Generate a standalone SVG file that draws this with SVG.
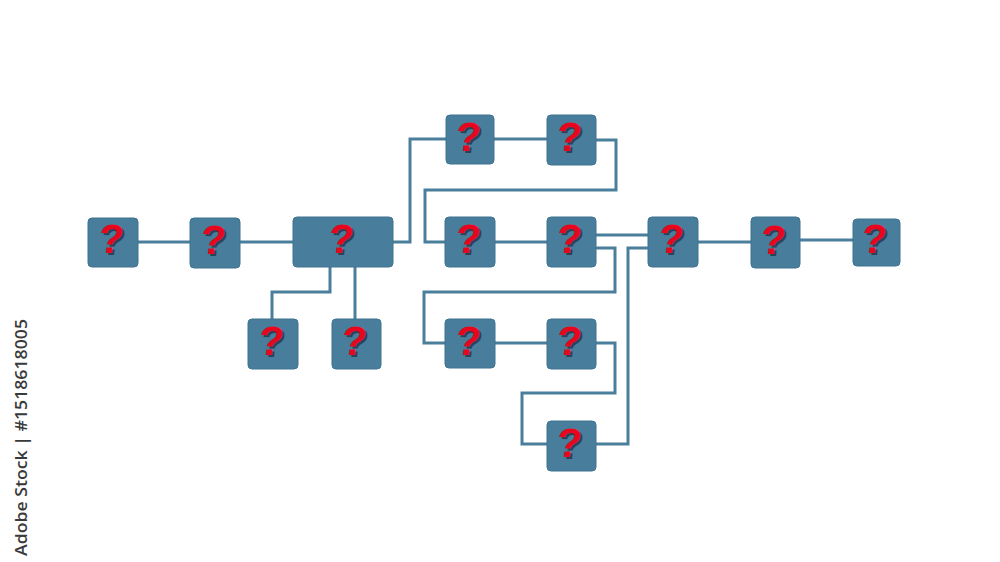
<svg xmlns="http://www.w3.org/2000/svg" xmlns:xlink="http://www.w3.org/1999/xlink" width="1000" height="562" viewBox="0 0 1000 562">
<style>
.node{fill:#487e9b;stroke:#3f7390;stroke-width:1}
.conn{fill:none;stroke:#4a7f9b;stroke-width:3}
.qs{font-family:"Liberation Sans",Arial,sans-serif;font-weight:bold;font-size:41px;text-anchor:middle;fill:#2c4259}
.qr{font-family:"Liberation Sans",Arial,sans-serif;font-weight:bold;font-size:41px;text-anchor:middle;fill:#e8061e}
.wm{font-family:"Open Sans","Noto Sans",sans-serif;font-size:17px;font-weight:600;fill:#3a3a3a}
</style>
<defs>
<g id="q">
<text class="qs" x="0.5" y="13" transform="skewX(-6)">?</text>
<text class="qr" x="-2" y="10.5" transform="skewX(-6)">?</text>
</g>
</defs>
<rect width="1000" height="562" fill="#ffffff"/>
<g id="connectors">
<path class="conn" d="M138 242H191"/>
<path class="conn" d="M240 242H293"/>
<path class="conn" d="M393 242H410V139H446"/>
<path class="conn" d="M494 139H547"/>
<path class="conn" d="M596 140H616V190H425V242H445"/>
<path class="conn" d="M495 242H547"/>
<path class="conn" d="M596 235H648"/>
<path class="conn" d="M596 248H615V292H424V343H445"/>
<path class="conn" d="M495 343H547"/>
<path class="conn" d="M596 343H615V393H522V444H547"/>
<path class="conn" d="M596 444H628V248H648"/>
<path class="conn" d="M698 242H751"/>
<path class="conn" d="M800 240H853"/>
<path class="conn" d="M330 267V292H272V319"/>
<path class="conn" d="M355 267V319"/>
</g>
<g id="n1"><rect class="node" x="88" y="218" width="50" height="49" rx="4"/><use xlink:href="#q" x="113" y="242"/></g>
<g id="n2"><rect class="node" x="190" y="218" width="50" height="50" rx="4"/><use xlink:href="#q" x="215" y="243"/></g>
<g id="n3"><rect class="node" x="293" y="217" width="100" height="50" rx="4"/><use xlink:href="#q" x="343" y="242"/></g>
<g id="n4"><rect class="node" x="446" y="115" width="48" height="49" rx="4"/><use xlink:href="#q" x="470" y="140"/></g>
<g id="n5"><rect class="node" x="547" y="115" width="49" height="50" rx="4"/><use xlink:href="#q" x="571" y="140"/></g>
<g id="n6"><rect class="node" x="445" y="217" width="50" height="50" rx="4"/><use xlink:href="#q" x="470" y="242"/></g>
<g id="n7"><rect class="node" x="547" y="217" width="49" height="50" rx="4"/><use xlink:href="#q" x="571" y="242"/></g>
<g id="n8"><rect class="node" x="648" y="217" width="50" height="50" rx="4"/><use xlink:href="#q" x="673" y="242"/></g>
<g id="n9"><rect class="node" x="751" y="217" width="49" height="51" rx="4"/><use xlink:href="#q" x="775" y="243"/></g>
<g id="n10"><rect class="node" x="853" y="219" width="47" height="47" rx="4"/><use xlink:href="#q" x="876" y="242"/></g>
<g id="n11"><rect class="node" x="248" y="319" width="50" height="50" rx="4"/><use xlink:href="#q" x="273" y="344"/></g>
<g id="n12"><rect class="node" x="332" y="319" width="49" height="50" rx="4"/><use xlink:href="#q" x="356" y="344"/></g>
<g id="n13"><rect class="node" x="445" y="319" width="50" height="49" rx="4"/><use xlink:href="#q" x="470" y="344"/></g>
<g id="n14"><rect class="node" x="547" y="319" width="49" height="50" rx="4"/><use xlink:href="#q" x="571" y="344"/></g>
<g id="n15"><rect class="node" x="547" y="421" width="49" height="50" rx="4"/><use xlink:href="#q" x="571" y="446"/></g>
<text class="wm" transform="translate(27,556) rotate(-90)" textLength="237" lengthAdjust="spacingAndGlyphs">Adobe Stock | #1518618005</text>
</svg>
